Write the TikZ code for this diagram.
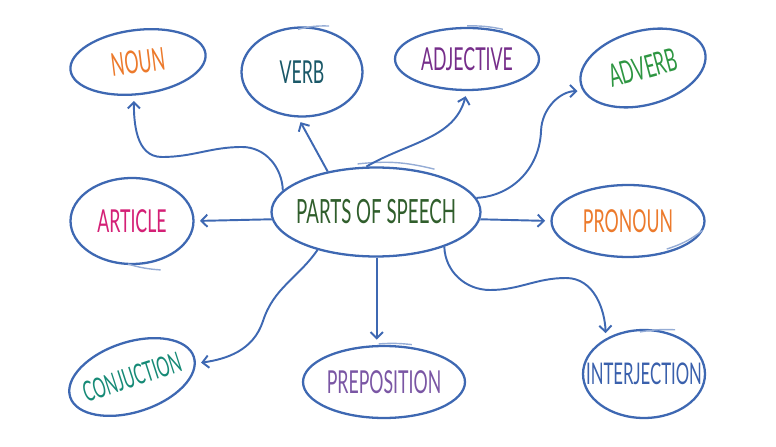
\documentclass[tikz,border=0pt]{standalone}
\usepackage{fontspec}
\setmainfont{Lato}[FakeStretch=0.56]
\usetikzlibrary{shapes.geometric,arrows.meta}
\definecolor{inkblue}{RGB}{62,104,178}
\definecolor{nounorange}{RGB}{236,122,44}
\definecolor{verbteal}{RGB}{26,88,104}
\definecolor{adjpurple}{RGB}{118,46,138}
\definecolor{advgreen}{RGB}{46,150,66}
\definecolor{artpink}{RGB}{212,32,118}
\definecolor{spchgreen}{RGB}{48,94,44}
\definecolor{conjteal}{RGB}{22,138,118}
\definecolor{preppurple}{RGB}{122,86,164}
\definecolor{interblue}{RGB}{58,96,172}
\begin{document}
\begin{tikzpicture}[x=0.02cm,y=0.02cm,
  word/.style={ellipse,draw=inkblue,line width=1.3pt,inner xsep=-1cm,inner ysep=0pt,
    font=\fontsize{18}{21}\selectfont},
  link/.style={draw=inkblue,line width=1.1pt,-{Straight Barb[length=3.5pt,width=7pt]},shorten >=3pt},
  tail/.style={draw=inkblue!55,line width=0.8pt}]
\useasboundingbox (0,0) rectangle (776,446);
\node[word,minimum width=4.18cm,minimum height=1.78cm,text=spchgreen,font=\fontsize{19}{22}\selectfont] (spch) at (376,234) {PARTS OF SPEECH};
\node[word,minimum width=2.72cm,minimum height=1.28cm,rotate=7,text=nounorange] (noun) at (138,384) {NOUN};
\node[word,minimum width=2.42cm,minimum height=1.78cm,text=verbteal] (verb) at (302,374) {VERB};
\node[word,minimum width=2.88cm,minimum height=1.24cm,text=adjpurple] (adj) at (467,387) {ADJECTIVE};
\node[word,minimum width=2.56cm,minimum height=1.48cm,rotate=15,text=advgreen] (adv) at (643,378) {ADVERB};
\node[word,minimum width=2.46cm,minimum height=1.72cm,text=artpink] (art) at (132,225) {ARTICLE};
\node[word,minimum width=3.06cm,minimum height=1.44cm,text=nounorange] (pron) at (628,225) {PRONOUN};
\node[word,minimum width=2.6cm,minimum height=1.4cm,rotate=18,text=conjteal,font=\fontsize{16}{19}\selectfont] (conj) at (132,69) {CONJUCTION};
\node[word,minimum width=3.24cm,minimum height=1.44cm,text=preppurple] (prep) at (384,64) {PREPOSITION};
\node[word,minimum width=2.44cm,minimum height=1.76cm,text=interblue,font=\fontsize{17}{20}\selectfont] (interj) at (644,72) {INTERJECTION};

\draw[tail] ([shift={(-2,3)}]spch.110) to[bend left=10] ([shift={(3,4)}]spch.35);
\draw[tail] ([shift={(-4,-3)}]verb.north) to[bend left=8] ([shift={(3,4)}]verb.60);
\draw[tail] ([shift={(0,1)}]adj.north) to[bend left=6] ([shift={(-1,2)}]adj.37);
\draw[tail] ([shift={(-4,1)}]art.south) to[bend right=6] ([shift={(9,-7)}]art.295);
\draw[tail] ([shift={(-4,3)}]pron.324) to[bend right=10] ([shift={(0,1)}]pron.352);
\draw[tail] ([shift={(-2,1)}]prep.95) to[bend left=5] ([shift={(3,2)}]prep.55);
\draw[tail] ([shift={(0,-3)}]interj.95) to[bend left=6] ([shift={(3,4)}]interj.55);

\draw[link] (spch.167) to[out=92,in=0] (242,299) to[out=180,in=0] (162,289) to[out=180,in=-90] (noun.256);
\draw[link] (spch.140) -- (verb.265);
\draw[link] (spch.102) to[out=30,in=-105] (adj.270);
\draw[link] (spch.8) to[out=3,in=-92] (541,315) to[out=88,in=180] (adv.186);
\draw[link] (spch.184) -- (art.east);
\draw[link] (spch.356) -- (pron.west);
\draw[link] (spch.213) to[out=235,in=72] (263,125) to[out=252,in=8] (conj.354);
\draw[link] (spch.271) -- (spch.271 |- prep.north);
\draw[link] (spch.333) to[out=-88,in=180] (490,156) to[out=0,in=180] (566,168) to[out=0,in=92] (interj.137);
\end{tikzpicture}
\end{document}
